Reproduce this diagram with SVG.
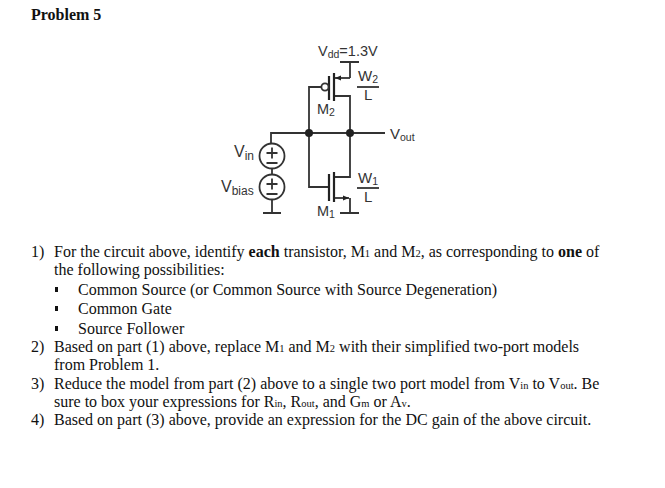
<svg xmlns="http://www.w3.org/2000/svg" width="665" height="488" viewBox="0 0 665 488">
<style>
.w{fill:none;stroke:#333;stroke-width:1.8}
.b{fill:none;stroke:#222;stroke-width:2.2}
.s{font-family:"Liberation Sans",Arial,sans-serif;fill:#333}
.t{font-family:"Liberation Serif","Times New Roman",serif;font-size:16px;fill:#111}
.sub{font-size:10.5px}
</style>
<defs><marker id="a" viewBox="0 0 6 6" refX="6" refY="3" markerWidth="6" markerHeight="6" markerUnits="userSpaceOnUse" orient="auto"><path d="M0 0.5L6 3L0 5.5z" fill="#222"/></marker></defs>
<rect width="665" height="488" fill="#fff"/>
<g id="connectors">
<path class="w" d="M340 62H359M350 62V78" />
<path class="w" d="M350 78H335" marker-end="url(#a)"/>
<path class="w" d="M334 96H350V177H334"/>
<path class="w" d="M321 87H309V187H329"/>
<path class="w" d="M271 143V133H350M350 133H385"/>
<path class="w" d="M272 169V174M272 200V213M263 213H281"/>
<path class="w" d="M334 198H349" marker-end="url(#a)"/>
<path class="w" d="M350 198V213M340 213H359"/>
<circle cx="309" cy="133" r="4" fill="#222"/>
<circle cx="350" cy="133" r="4" fill="#222"/>
</g>
<g id="M2">
<path class="b" d="M329 76V100M334 73V101"/>
<circle class="w" cx="325" cy="87" r="3.6" fill="#fff"/>
<text class="s" x="317" y="114" font-size="14.5">M<tspan class="sub" dy="2">2</tspan></text>
<text class="s" x="358" y="81" font-size="15">W<tspan class="sub" dy="2">2</tspan></text>
<path class="w" d="M357 87H379"/>
<text class="s" x="364" y="100" font-size="15">L</text>
</g>
<g id="M1">
<path class="b" d="M329 174V201M334 172V202"/>
<text class="s" x="317" y="216" font-size="14.5">M<tspan class="sub" dy="2">1</tspan></text>
<text class="s" x="358" y="183" font-size="15">W<tspan class="sub" dy="2">1</tspan></text>
<path class="w" d="M357 188H379"/>
<text class="s" x="364" y="202" font-size="15">L</text>
</g>
<g id="Vin">
<circle class="w" cx="272" cy="156" r="12.5"/>
<path class="w" d="M266.500 153H277.500M272 147.500V158.500M266.500 163H277.500"/>
<text class="s" x="234" y="157" font-size="16">V<tspan font-size="12" dy="3">in</tspan></text>
</g>
<g id="Vbias">
<circle class="w" cx="272" cy="187" r="12.500"/>
<path class="w" d="M266.500 184H277.500M272 178.500V189.500M266.500 194H277.500"/>
<text class="s" x="221" y="192" font-size="16">V<tspan font-size="12" dy="3">bias</tspan></text>
</g>
<g id="Vdd"><text class="s" x="318" y="56" font-size="14.500">V<tspan class="sub" dy="2">dd</tspan><tspan dy="-2">=1.3V</tspan></text></g>
<g id="Vout"><text class="s" x="390" y="139" font-size="15">V<tspan class="sub" dy="2">out</tspan></text></g>
<g id="text">
<text class="t" x="31" y="20" font-weight="bold">Problem 5</text>
<text class="t" x="31" y="257">1)</text>
<text class="t" x="54" y="257">For the circuit above, identify <tspan font-weight="bold">each</tspan> transistor, M<tspan font-size="10.500">1</tspan> and M<tspan font-size="10.500">2</tspan>, as corresponding to <tspan font-weight="bold">one</tspan> of</text>
<text class="t" x="54" y="275">the following possibilities:</text>
<rect x="55" y="287" width="3" height="5" fill="#111"/>
<text class="t" x="78" y="295">Common Source (or Common Source with Source Degeneration)</text>
<rect x="55" y="306" width="3" height="5" fill="#111"/>
<text class="t" x="78" y="314">Common Gate</text>
<rect x="55" y="326" width="3" height="5" fill="#111"/>
<text class="t" x="78" y="334">Source Follower</text>
<text class="t" x="31" y="352">2)</text>
<text class="t" x="54" y="352">Based on part (1) above, replace M<tspan font-size="10.500">1</tspan> and M<tspan font-size="10.500">2</tspan> with their simplified two-port models</text>
<text class="t" x="54" y="370">from Problem 1.</text>
<text class="t" x="31" y="389">3)</text>
<text class="t" x="54" y="389">Reduce the model from part (2) above to a single two port model from V<tspan font-size="10.500">in</tspan> to V<tspan font-size="10.500">out</tspan>. Be</text>
<text class="t" x="54" y="407">sure to box your expressions for R<tspan font-size="10.500">in</tspan>, R<tspan font-size="10.500">out</tspan>, and G<tspan font-size="10.500">m</tspan> or A<tspan font-size="10.500">v</tspan>.</text>
<text class="t" x="31" y="425">4)</text>
<text class="t" x="54" y="425">Based on part (3) above, provide an expression for the DC gain of the above circuit.</text>
</g>
</svg>
